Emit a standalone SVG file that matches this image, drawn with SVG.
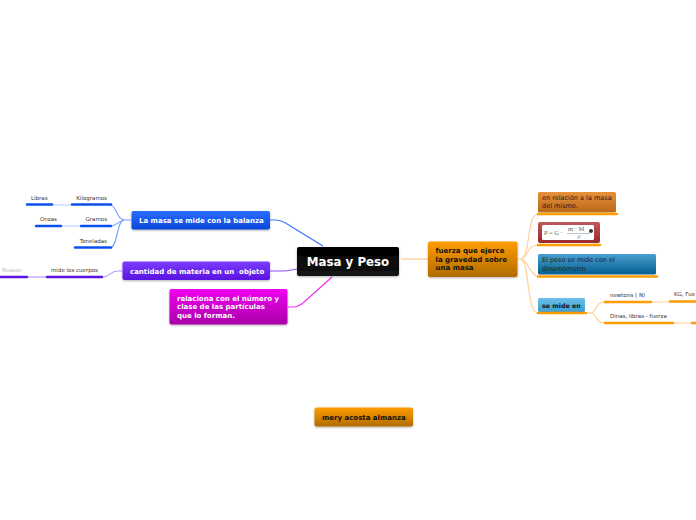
<svg xmlns="http://www.w3.org/2000/svg" width="696" height="520" viewBox="0 0 696 520">
<style>
text{font-family:"DejaVu Sans",Verdana,sans-serif}
.n{font-weight:bold;font-size:7px}
.w{fill:#fff}
.k{fill:#111}
.l{font-size:5.500px;fill:#333}
.r{font-size:6.500px;fill:#222}
.c{fill:none;stroke-width:1.200}
.u{fill:none;stroke-width:2.400;stroke-linecap:round}
.s{filter:url(#sh)}
.f{font-family:"Liberation Serif",serif;fill:#666}
</style>
<defs>
<filter id="sh" x="-10%" y="-20%" width="120%" height="150%"><feDropShadow dx="0" dy="1" stdDeviation="1" flood-color="#000" flood-opacity=".3"/></filter>
<linearGradient id="gk" x1="0" y1="0" x2="0" y2="1"><stop offset="0" stop-color="#000"/><stop offset="1" stop-color="#151515"/></linearGradient>
<linearGradient id="go" x1="0" y1="0" x2="0" y2="1"><stop offset="0" stop-color="#ff9c00"/><stop offset="1" stop-color="#b06c00"/></linearGradient>
<linearGradient id="gb" x1="0" y1="0" x2="0" y2="1"><stop offset="0" stop-color="#2a6dff"/><stop offset="1" stop-color="#0a48d8"/></linearGradient>
<linearGradient id="gp" x1="0" y1="0" x2="0" y2="1"><stop offset="0" stop-color="#7a3cff"/><stop offset="1" stop-color="#5a14e0"/></linearGradient>
<linearGradient id="gm" x1="0" y1="0" x2="0" y2="1"><stop offset="0" stop-color="#f000f0"/><stop offset="1" stop-color="#a800a8"/></linearGradient>
<linearGradient id="gt" x1="0" y1="0" x2="0" y2="1"><stop offset="0" stop-color="#e8913a"/><stop offset="1" stop-color="#b8691a"/></linearGradient>
<linearGradient id="gd" x1="0" y1="0" x2="0" y2="1"><stop offset="0" stop-color="#4a9fd0"/><stop offset="1" stop-color="#045e90"/></linearGradient>
<linearGradient id="gs" x1="0" y1="0" x2="0" y2="1"><stop offset="0" stop-color="#6cc0ea"/><stop offset="1" stop-color="#3f9ed2"/></linearGradient>
<linearGradient id="gr" x1="0" y1="0" x2="0" y2="1"><stop offset="0" stop-color="#c0585c"/><stop offset="1" stop-color="#98282c"/></linearGradient>
</defs>
<rect width="696" height="520" fill="#fff"/>
<g id="connectors">
<path class="c" stroke="#3a75ff" d="M270 220H276C282 220 286 223 292 227L323 246"/>
<path class="c" stroke="#8a50ff" d="M270 271H282C290 271 290 270 297 269"/>
<path class="c" stroke="#f030f0" d="M288 307H294C298 307 300 305 303 303L332 277"/>
<path class="c" stroke="#ffc68a" d="M401 259H428"/>
<path class="c" stroke="#7aa4ff" d="M131 220H125C116 220 117 205 110 205M131 220H125C118 220 118 226 110 226M131 220H125C116 220 118 248 110 248"/>
<path class="c" stroke="#b49aff" d="M122 271H118C110 271 110 277 103 277"/>
<path class="c" stroke="#b49aff" d="M28 277H46"/>
<path class="c" stroke="#b0c8ff" d="M53 205H71M62 226H80"/>
<path class="c" stroke="#ffd09a" d="M517 259H520C531 259 526 215 538 214M517 259H520C528 259 526 245 538 245M517 259H520C528 259 530 276 538 276M517 259H520C530 259 526 313 538 313"/>
<path class="c" stroke="#ffd09a" d="M587 313H590C598 313 594 302 605 302M590 313C598 313 594 323 605 323M651 302H670M673 323H691"/>
</g>
<g id="node-root"><rect class="s" x="297" y="247" width="102" height="29" rx="2" fill="url(#gk)"/><text x="348" y="266" text-anchor="middle" font-size="11.800" font-weight="bold" fill="#fff">Masa y Peso</text></g>
<g id="node-fuerza"><rect class="s" x="428" y="241.500" width="89.500" height="35.500" rx="2" fill="url(#go)"/><text class="n k"><tspan x="435.500" y="253">fuerza que ejerce</tspan><tspan x="435.500" y="262">la gravedad sobre</tspan><tspan x="435.500" y="270">una masa</tspan></text></g>
<g id="node-balanza"><rect class="s" x="131.500" y="211" width="138.500" height="18.500" rx="2" fill="url(#gb)"/><text class="n w" x="139" y="223">La masa se mide con la balanza</text></g>
<g id="node-materia"><rect class="s" x="122.500" y="261.500" width="147.500" height="18.500" rx="2" fill="url(#gp)"/><text class="n w" x="130" y="273.500" xml:space="preserve">cantidad de materia en un  objeto</text></g>
<g id="node-relaciona"><rect class="s" x="169.500" y="289" width="118" height="35.500" rx="2" fill="url(#gm)"/><text class="n w"><tspan x="177" y="301">relaciona con el número y</tspan><tspan x="177" y="309">clase de las partículas</tspan><tspan x="177" y="318">que lo forman.</tspan></text></g>
<g id="node-mery"><rect class="s" x="314.500" y="407.500" width="98.500" height="19" rx="2" fill="url(#go)"/><text class="n k" x="322" y="419.500">mery acosta almanza</text></g>
<g id="node-relacion"><rect x="538" y="192" width="78" height="20.500" rx="1.500" fill="url(#gt)"/><text class="r"><tspan x="542" y="200">en relación a la masa</tspan><tspan x="542" y="208">del mismo.</tspan></text><path class="u" stroke="#ff9c00" d="M538 214H617"/></g>
<g id="node-formula"><rect x="538" y="222" width="62" height="21" rx="2" fill="url(#gr)"/><rect x="542" y="225" width="52" height="15" rx="1.500" fill="#fff"/><text class="f" x="544" y="234.500" font-size="6.500">P = G ·</text><text class="f" x="568" y="231" font-size="6.500">m · M</text><path d="M567 233.500H590" stroke="#888" stroke-width=".5"/><text class="f" x="579" y="239" font-size="5.500" text-anchor="middle">r²</text><circle cx="591" cy="231" r="2" fill="#333"/><path class="u" stroke="#ff9c00" d="M538 245H600"/></g>
<g id="node-dinamometro"><rect x="538" y="254" width="118" height="20.500" rx="1.500" fill="url(#gd)"/><text class="r"><tspan x="542" y="262">El peso se mide con el</tspan><tspan x="542" y="271">dinamómetro</tspan></text><path class="u" stroke="#ff9c00" d="M538 276.500H657"/></g>
<g id="node-semide"><rect x="538" y="298" width="47" height="14" rx="1.500" fill="url(#gs)"/><text class="n k" x="542" y="307.500" style="font-size:6.300px">se mide en</text><path class="u" stroke="#ff9c00" d="M538 313H586"/></g>
<g id="node-newtons"><text class="l" x="610" y="297">newtons ( N)</text><path class="u" stroke="#ff9c00" d="M605 302H651"/></g>
<g id="node-kg"><text class="l" x="674" y="296">KG, Fue</text><path class="u" stroke="#ff9c00" d="M670 301.500H696"/></g>
<g id="node-dinas"><text class="l" x="610" y="318">Dinas, libras - fuerza</text><path class="u" stroke="#ff9c00" d="M605 323H673"/></g>
<g id="node-dinas2"><path class="u" stroke="#ff9c00" d="M692 323H696"/></g>
<g id="node-kilogramos"><text class="l" x="107" y="200" text-anchor="end">Kilogramos</text><path class="u" stroke="#0a50f0" d="M72 204.500H111"/></g>
<g id="node-libras"><text class="l" x="31" y="200">Libras</text><path class="u" stroke="#0a50f0" d="M27 204.500H52"/></g>
<g id="node-gramos"><text class="l" x="107" y="221" text-anchor="end">Gramos</text><path class="u" stroke="#0a50f0" d="M81 226H111"/></g>
<g id="node-onzas"><text class="l" x="40" y="221">Onzas</text><path class="u" stroke="#0a50f0" d="M36 226H61"/></g>
<g id="node-toneladas"><text class="l" x="107" y="243" text-anchor="end">Toneladas</text><path class="u" stroke="#0a50f0" d="M75 247.500H111"/></g>
<g id="node-mide"><text class="l" x="51" y="272">mide los cuerpos</text><path class="u" stroke="#5a14e0" d="M47 277H102"/></g>
<g id="node-reason"><text x="2" y="272" font-size="5.500" fill="#bbb">Reason</text><path class="u" stroke="#5a14e0" d="M0 277H27"/></g>
</svg>
